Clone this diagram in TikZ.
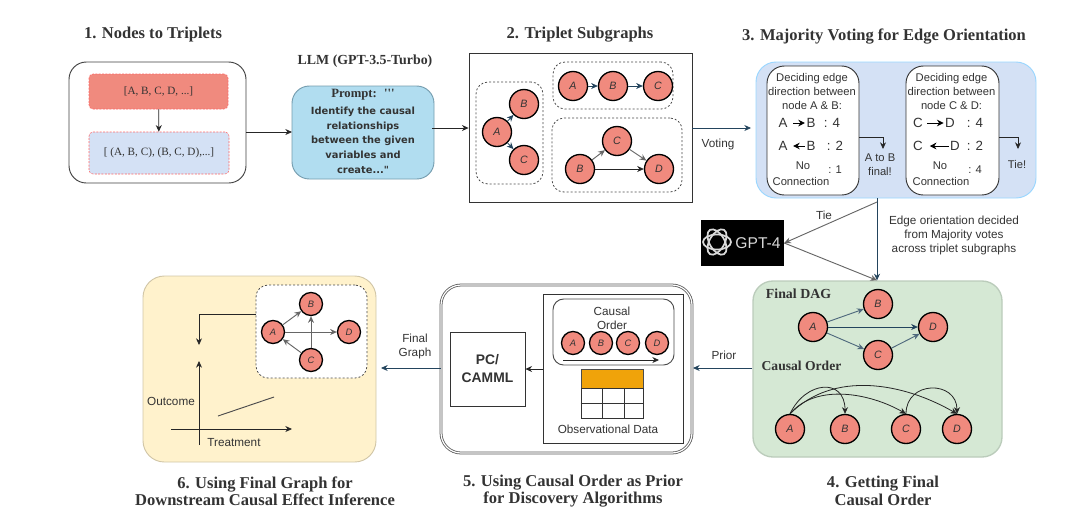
\documentclass[tikz,border=0pt]{standalone}
\usepackage{fontspec}
\setmainfont{Liberation Serif}
\setsansfont{Liberation Sans}
\newfontfamily\handfont{DejaVu Sans}
\newfontfamily\quotefont{Liberation Serif}
\usetikzlibrary{arrows.meta}

\def\px{0.75pt}
\definecolor{salmon}{HTML}{F08A7E}
\definecolor{lightblue}{HTML}{D4E1F5}
\definecolor{skyblue}{HTML}{B1DDF0}
\definecolor{lightgreen}{HTML}{D5E8D4}
\definecolor{lightyellow}{HTML}{FFF2CC}
\definecolor{navy}{HTML}{23445D}
\definecolor{darktext}{HTML}{333333}
\definecolor{tablehead}{HTML}{F0A30A}

\tikzset{
    every node/.style={inner sep=0pt, text=darktext},
    title/.style={font=\fontsize{12.4}{13}\selectfont\bfseries, align=center},
    label/.style={font=\sffamily\fontsize{8.8}{10.5}\selectfont, align=center},
    asklabel/.style={font=\sffamily\fontsize{8.4}{10.5}\selectfont, align=center},
    votes/.style={font=\sffamily\fontsize{10}{11}\selectfont},
    vertex/.style={circle, draw=black, line width=1pt, fill=salmon, minimum size=29*\px,
        font=\sffamily\itshape\fontsize{8}{10}\selectfont},
    smallvertex/.style={vertex, minimum size=23*\px, font=\sffamily\itshape\fontsize{7}{9}\selectfont},
    panel/.style={draw=#1, rounded corners=13pt, line width=0.7pt},
    panel/.default=black,
    dashbox/.style={draw=black!70, dashed, dash pattern=on 1.5pt off 1.5pt, rounded corners=9pt, line width=0.6pt},
    plainbox/.style={draw=black!80, fill=white, line width=0.6pt},
    flow/.style={-{Stealth[length=5pt,width=4.5pt]}, line width=0.6pt, draw=black!85},
    navyflow/.style={-{Stealth[length=5pt,width=4.5pt]}, line width=0.6pt, draw=navy},
    grayflow/.style={-{Stealth[length=5pt,width=4.5pt]}, line width=0.7pt, draw=black!60},
    voteflow/.style={-{Stealth[length=5pt,width=5pt]}, line width=0.7pt},
    voteback/.style={{Stealth[length=5pt,width=5pt]}-, line width=0.7pt},
}

\begin{document}
\begin{tikzpicture}[x=\px, y=-\px]
    \useasboundingbox (0,0) rectangle (1080,519);

    % 1. nodes to triplets
    \node[panel=black!75, fill=white, minimum width=177*\px, minimum height=121*\px] (nodesbox) at (157.5,122.5) {};
    \node[draw=red!60, dashed, dash pattern=on 1.5pt off 1pt, fill=salmon, rounded corners=3pt, minimum width=139*\px, minimum height=35*\px,
        font=\fontsize{8.4}{9}\selectfont] (nodelist) at (158.5,91.5) {[A, B, C, D, ...]};
    \node[draw=red!60, dashed, dash pattern=on 1.5pt off 1pt, fill=lightblue, rounded corners=3pt, minimum width=140*\px, minimum height=42*\px,
        font=\fontsize{8.4}{9}\selectfont] (tripletlist) at (159,153) {[ (A, B, C), (B, C, D),...]};
    \draw[flow] (nodelist) -- (tripletlist);
    \node[title] (titleA) at (153,35) {1. Nodes to Triplets};

    % LLM prompt
    \node[title, font=\fontsize{10.4}{12}\selectfont\bfseries] (titleLLM) at (365,61) {LLM (GPT-3.5-Turbo)};
    \node[panel=cyan!50!black!70, fill=skyblue, minimum width=142*\px, minimum height=93*\px] (promptbox) at (363,132.5) {};
    \node[font=\fontsize{9.5}{10}\selectfont\bfseries] (promptfirst) at (363,95) {Prompt: \ {\quotefont\bfseries '''}};
    \node[font=\handfont\fontsize{7.4}{11}\selectfont\bfseries, align=center] (prompttext) at (363,140)
        {Identify the causal\\relationships\\between the given\\variables and\\create..."};
    \coordinate (promptin) at (292,132);
    \coordinate (promptout) at (432,128);
    \draw[flow] (nodesbox.east |- promptin) -- (promptin);

    % 2. triplet subgraphs
    \node[plainbox, minimum width=223*\px, minimum height=149*\px] (tripletbox) at (580.5,127.5) {};
    \node[title] (titleB) at (580,35) {2. Triplet Subgraphs};
    \draw[flow] (promptout) -- (tripletbox.west |- promptout);
    \node[dashbox, minimum width=67*\px, minimum height=102*\px] (groupA) at (509.5,133) {};
    \node[dashbox, minimum width=120*\px, minimum height=47*\px] (groupB) at (613,85.5) {};
    \node[dashbox, minimum width=130*\px, minimum height=74*\px] (groupC) at (617,155) {};
    \foreach \name/\lab/\x/\y in {fanA/A/497/132, fanB/B/524/104, fanC/C/524/160,
        chainA/A/573/86, chainB/B/613/86, chainC/C/658/86,
        triB/B/580/169, triC/C/617/141, triD/D/659/169} {
        \node[vertex] (\name) at (\x,\y) {\lab};
    }
    \draw[navyflow] (fanA) -- (fanB);
    \draw[navyflow] (fanA) -- (fanC);
    \draw[navyflow] (chainA) -- (chainB);
    \draw[navyflow] (chainB) -- (chainC);
    \draw[grayflow] (triB) -- (triC);
    \draw[grayflow] (triC) -- (triD);
    \draw[flow] (triB) -- (triD);

    % 3. majority voting
    \node[title] (titleC) at (884,36) {3. Majority Voting for Edge Orientation};
    \node[panel=blue!40!cyan!40!white, fill=lightblue, rounded corners=15pt, minimum width=280*\px, minimum height=136*\px] (votebox) at (896,130) {};
    \node[panel=black!80, fill=white, minimum width=92*\px, minimum height=129*\px] (voteleft) at (813,130.5) {};
    \node[panel=black!80, fill=white, minimum width=93*\px, minimum height=129*\px] (voteright) at (952.5,130.5) {};
    \coordinate (voteway) at (751,128);
    \draw[navyflow] (tripletbox.east |- voteway) -- (voteway);
    \node[label] (votingtext) at (718,144) {Voting};

    \node[asklabel] (askleft) at (812,91) {Deciding edge\\direction between\\node A \& B:};
    \node[votes] (rowoneA) at (783,123) {A};
    \node[votes] (rowoneB) at (811,123) {B};
    \node[votes] (rowonecount) at (832,122.5) {: 4};
    \node[votes] (rowtwoA) at (783,146) {A};
    \node[votes] (rowtwoB) at (811,146) {B};
    \node[votes] (rowtwocount) at (835,146) {: 2};
    \node[asklabel] (noneleft) at (803,166) {No};
    \node[asklabel] (connleft) at (801,181) {Connection};
    \node[asklabel] (nonecountleft) at (835,170) {: 1};
    \draw[voteflow] ([xshift=4pt]rowoneA.east) -- ([xshift=-1pt]rowoneB.west);
    \draw[voteback] ([xshift=4pt]rowtwoA.east) -- ([xshift=-1pt]rowtwoB.west);

    \node[asklabel] (askright) at (951.5,91) {Deciding edge\\direction between\\node C \& D:};
    \node[votes] (rowoneC) at (918,123) {C};
    \node[votes] (rowoneD) at (950,123) {D};
    \node[votes] (rowonetally) at (975,122.5) {: 4};
    \node[votes] (rowtwoC) at (918,146) {C};
    \node[votes] (rowtwoD) at (955,146) {D};
    \node[votes] (rowtwotally) at (975,146) {: 2};
    \node[asklabel] (noneright) at (940,166) {No};
    \node[asklabel] (connright) at (941,181) {Connection};
    \node[asklabel] (nonecountright) at (975,170) {: 4};
    \draw[voteflow] ([xshift=3pt]rowoneC.east) -- ([xshift=-1pt]rowoneD.west);
    \draw[voteback] ([xshift=5pt]rowtwoC.east) -- ([xshift=-1pt]rowtwoD.west);

    \coordinate (outleft) at (883,149);
    \coordinate (outright) at (1018,149);
    \draw[flow] (voteleft.east |- 0,137) -| (outleft);
    \draw[flow] (voteright.east |- 0,137) -| (outright);
    \node[asklabel] (finaltext) at (880,165) {A to B\\final!};
    \node[asklabel] (tietext) at (1017,164) {Tie!};

    % tie goes to GPT-4
    \node[fill=black, minimum width=83*\px, minimum height=46*\px] (gptbox) at (742.5,243) {};
    \foreach \a in {0,60,120} {
        \draw[white!85!black, line width=1.3pt] (717,242) ellipse [x radius=14, y radius=7.5, rotate=\a];
    }
    \node[font=\sffamily\fontsize{11.7}{13}\selectfont, text=white!85!black] (gpttext) at (758,243) {GPT-4};
    \node[label] (tieedge) at (824,215) {Tie};
    \node[label] (edgetext) at (954,235.5) {Edge orientation decided\\from Majority votes\\across triplet subgraphs};

    % 4. final causal order
    \node[panel=lightgreen!88!black, fill=lightgreen, rounded corners=15pt, line width=1pt, minimum width=249*\px, minimum height=176*\px] (greenbox) at (877.5,369) {};
    \coordinate (split) at (877,202);
    \draw[navyflow] (votebox.south -| split) -- (greenbox.north -| split);
    \draw[grayflow] (split) -- (gptbox.east);
    \draw[grayflow] (gptbox.east) -- (greenbox.north -| split);
    \node[font=\fontsize{10.4}{10}\selectfont\bfseries] (finaldag) at (798.5,294) {Final DAG};
    \node[font=\fontsize{10.2}{10}\selectfont\bfseries] (ordertext) at (801.5,366) {Causal Order};
    \foreach \name/\lab/\x/\y in {dagA/A/813/327, dagB/B/878/304, dagC/C/878/355, dagD/D/933/327,
        ordA/A/790/429, ordB/B/845/429, ordC/C/906/429, ordD/D/957/429} {
        \node[vertex] (\name) at (\x,\y) {\lab};
    }
    \draw[grayflow, draw=navy!80] (dagA) -- (dagB);
    \draw[navyflow] (dagA) -- (dagD);
    \draw[grayflow, draw=navy!80] (dagA) -- (dagC);
    \draw[grayflow, draw=navy!80] (dagC) -- (dagD);
    \draw[flow] (ordA.north) to[out=65,in=90,looseness=1.7] (ordB.north);
    \draw[flow] (ordA.north) to[out=50,in=150,looseness=0.9] (ordC.north);
    \draw[flow] (ordA.north) to[out=45,in=150,looseness=0.95] (ordD.north);
    \draw[flow] (ordC.north) to[out=90,in=90,looseness=1.7] (ordD.north);
    \node[title] (titleD) at (883,491) {4. Getting Final\\Causal Order};

    % 5. causal order as prior
    \node[draw=black!65, double=white, double distance=0.9pt, line width=0.6pt, fill=white, rounded corners=15pt,
        minimum width=251*\px, minimum height=168*\px] (discoverybox) at (566.5,369) {};
    \node[plainbox, minimum width=140*\px, minimum height=149*\px] (inputbox) at (613,368.5) {};
    \node[plainbox, minimum width=75*\px, minimum height=74*\px, font=\sffamily\bfseries\fontsize{10.4}{13.5}\selectfont, align=center] (pcbox) at (487.5,369) {PC/\\CAMML};
    \draw[flow] (inputbox.west |- pcbox) -- (pcbox);
    \node[panel=black!70, rounded corners=8pt, minimum width=121*\px, minimum height=66*\px] (orderbox) at (613.5,332) {};
    \node[label] (ordercaption) at (612,318) {Causal\\Order};
    \foreach \name/\lab/\x in {rowA/A/573, rowB/B/601, rowC/C/628, rowD/D/657} {
        \node[smallvertex] (\name) at (\x,343) {\lab};
    }
    \coordinate (orderstart) at (563,360);
    \coordinate (orderend) at (659,360);
    \draw[flow] (orderstart) -- (orderend);
    % table of data
    \node[draw=black!70, fill=tablehead, minimum width=62*\px, minimum height=19*\px] (tablehead) at (612,378.5) {};
    \node[draw=black!80, fill=white, minimum width=62*\px, minimum height=30*\px] (tablebody) at (612,403) {};
    \foreach \x in {602,624} {
        \draw[black!80, line width=0.6pt] (\x,388) -- (\x,418);
    }
    \draw[black!80, line width=0.6pt] (tablebody.west) -- (tablebody.east);
    \node[label] (datatext) at (608,429) {Observational Data};
    \coordinate (priorline) at (693,368);
    \draw[navyflow] (greenbox.west |- priorline) -- (priorline);
    \node[label] (priortext) at (724,355) {Prior};
    \node[title] (titleE) at (573,491) {5. Using Causal Order as Prior\\for Discovery Algorithms};

    % 6. downstream inference
    \node[panel=lightyellow!82!black, fill=lightyellow, rounded corners=16pt, minimum width=233*\px, minimum height=186*\px] (effectbox) at (259.5,369) {};
    \coordinate (finalline) at (381,368);
    \draw[navyflow] (discoverybox.west |- finalline) -- (finalline);
    \node[label] (finalgraph) at (415,346) {Final\\Graph};
    \node[dashbox, fill=white, minimum width=111*\px, minimum height=93*\px] (resultbox) at (311.5,331.5) {};
    \foreach \name/\lab/\x/\y in {resA/A/273/332, resB/B/311/304, resC/C/311/360, resD/D/349/332} {
        \node[smallvertex] (\name) at (\x,\y) {\lab};
    }
    \draw[grayflow] (resA) -- (resB);
    \draw[grayflow] (resA) -- (resD);
    \draw[grayflow] (resC) -- (resA);
    \draw[grayflow] (resC) -- (resB);
    \coordinate (effectin) at (199,345);
    \draw[flow] (resultbox.west |- 0,314) -| (effectin);
    \coordinate (yaxisfoot) at (199,445);
    \coordinate (yaxistop) at (199,361);
    \coordinate (xaxisfoot) at (171,429);
    \coordinate (xaxisend) at (292,429);
    \coordinate (slopeA) at (218,416);
    \coordinate (slopeB) at (274,397);
    \draw[flow] (yaxisfoot) -- (yaxistop);
    \draw[flow] (xaxisfoot) -- (xaxisend);
    \draw[black!70, line width=0.7pt] (slopeA) -- (slopeB);
    \node[label] (outcometext) at (171,401) {Outcome};
    \node[label] (treatmenttext) at (234,443) {Treatment};
    \node[title] (titleF) at (265,491.5) {6. Using Final Graph for\\Downstream Causal Effect Inference};
\end{tikzpicture}
\end{document}
